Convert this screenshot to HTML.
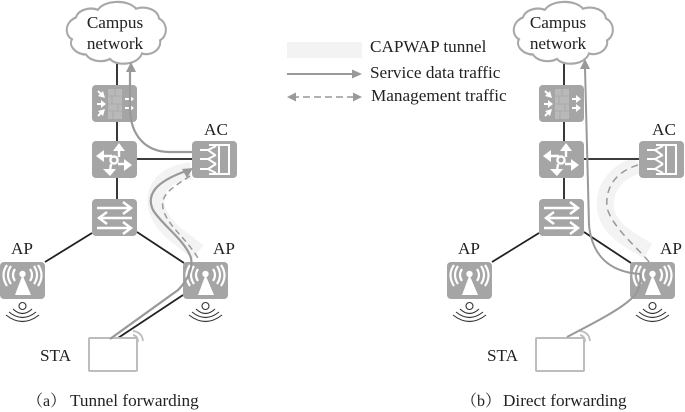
<!DOCTYPE html>
<html><head><meta charset="utf-8"><style>
html,body{margin:0;padding:0;background:#fff;width:685px;height:412px;overflow:hidden}
svg{display:block}
text{font-family:"Liberation Serif","Noto Serif CJK SC",serif;fill:#222;font-size:17.2px}
</style></head><body>
<svg width="685" height="412" viewBox="0 0 685 412" xmlns="http://www.w3.org/2000/svg">
<defs>
<symbol id="cloud" overflow="visible">
<path transform="scale(1,1.090)" d="M20 50C10 50 2 42 6 36C-2 32 -1 20 10 16C12 9 24 6 32 9C38 0 62 -1 70 8C80 5 92 9 93 17C102 21 102 33 94 37C96 45 85 52 76 49C72 60 50 61 44 54C36 58 24 56 20 50Z" fill="#fff" stroke="#a8a8a8" stroke-width="2"/>
</symbol>
<symbol id="fw" overflow="visible">
<rect width="45" height="37" rx="4" fill="#a5a5a5"/>
<rect x="16" y="4" width="14" height="30" fill="#b9b9b9"/>
<path d="M16 11H30M16 19H30M16 26H30M23 4V11M20 11V19M26 19V26M21 26V34" stroke="#a5a5a5" stroke-width=".8" fill="none"/>
<g stroke="#fff" stroke-width="2" fill="none">
<path d="M6 6L10 10M5 19H10M6 31L10 27M33 14H37M33 23H37"/>
</g>
<path d="M13 13L6 11L11 6ZM14 19L9 15V23ZM13 24L6 26L11 31ZM42 14L37 10V18ZM42 23L37 19V27Z" fill="#fff"/>
</symbol>
<symbol id="rt" overflow="visible">
<rect width="45" height="37" rx="4" fill="#a5a5a5"/>
<g stroke="#fff" stroke-width="2.400" fill="none">
<circle cx="22" cy="19" r="3.600"/>
<path d="M27 8V16M10 15H20M35 23H26M19 23L18 30"/>
</g>
<path d="M27 2L33 10H21ZM4 15L12 9V21ZM40 24L32 18V30ZM18 35L11 28H24Z" fill="#fff"/>
</symbol>
<symbol id="sw" overflow="visible">
<rect width="45" height="37" rx="4" fill="#a5a5a5"/>
<g stroke="#fff" stroke-width="2.500" fill="none">
<path d="M5 9H37M31 3L39 9L31 15"/>
<path d="M40 19H9M15 13L7 19L15 25"/>
<path d="M5 29H37M31 23L39 29L31 35"/>
</g>
</symbol>
<symbol id="ac" overflow="visible">
<rect width="45" height="37" rx="4" fill="#a5a5a5"/>
<g stroke="#fff" stroke-width="2" fill="none">
<path d="M17 4H37V33H17M27 4V33"/>
<path d="M8 9H16L24 5M16 9L23 14M8 18H16L24 14M16 18L24 23M8 28H16L24 23M16 28L24 32"/>
</g>
</symbol>
<symbol id="ap" overflow="visible">
<rect width="45" height="37" rx="4" fill="#a5a5a5"/>
<path d="M22.500 13L31 33H15Z" fill="#fff"/>
<circle cx="22.500" cy="12" r="3.200" fill="#fff"/>
<g stroke="#fff" stroke-width="2.200" fill="none">
<path d="M15 7Q11 13 15 19M30 7Q34 13 30 19M11 4Q5 13 11 22M34 4Q40 13 34 22M7 3Q0 13 7 24M38 3Q45 13 38 24"/>
</g>
<circle cx="22.500" cy="44" r="3.500" fill="#fff" stroke="#333" stroke-width="1.100"/>
<g stroke="#333" stroke-width="1.100" fill="none">
<path d="M13 47Q22.500 56 32 47M9 50Q22.500 61 36 50M6 53Q22.500 66 39 53"/>
</g>
</symbol>
<symbol id="sta" overflow="visible">
<rect x="1" y="1" width="48" height="33" rx="1" fill="#fff" stroke="#bdbdbd" stroke-width="2"/>
<path d="M48 -4Q53 -3 53 3M48 -8Q57 -7 58 2" stroke="#bdbdbd" stroke-width="1.800" fill="none" transform="translate(-3,2)"/>
</symbol>
</defs>

<!-- left panel -->
<path d="M191 171C165 173 150 190 158 212C166 231 184 240 198 252" stroke="#f3f3f3" stroke-width="17" fill="none"/>
<g stroke="#222" stroke-width="1.800" fill="none">
<path d="M117 55V199M137 159H192M92 233L45 262M137 232L184 263M183 295L118 338"/>
</g>
<use href="#cloud" x="66" y="0"/>
<use href="#fw" x="92" y="85"/>
<use href="#rt" x="92" y="141"/>
<use href="#sw" x="92" y="199"/>
<use href="#ac" x="192" y="141"/>
<use href="#ap" x="0" y="262"/>
<use href="#ap" x="183" y="262"/>
<use href="#sta" x="88" y="337"/>
<g stroke="#999" stroke-width="2.200" fill="none">
<path d="M130 70V110C131 135 145 152 170 152H192"/>
<path d="M110 339L178 290C188 280 193 268 191 258C185 240 162 225 153 210C146 195 155 182 186 171"/>
</g>
<path d="M131 62L136 72H126ZM193 168L182 169L187 178Z" fill="#999"/>
<path d="M190 176C172 188 158 195 164 212C170 228 188 240 199 260" stroke="#999" stroke-width="1.500" stroke-dasharray="6 4" fill="none"/>
<g text-anchor="middle">
<text x="115" y="28">Campus</text><text x="115" y="49">network</text>
<text x="216" y="135">AC</text><text x="22" y="254">AP</text><text x="224" y="254">AP</text>
</g>
<text x="40" y="361">STA</text>
<text x="27" y="406" style="font-size:16px">（a）</text><text x="70" y="406">Tunnel forwarding</text>

<!-- legend -->
<rect x="287" y="42" width="75" height="16" fill="#f3f3f3"/>
<path d="M287 74H353" stroke="#999" stroke-width="2"/><path d="M362 74L352 69.500V78.500Z" fill="#999"/>
<path d="M292 97H354" stroke="#999" stroke-width="1.500" stroke-dasharray="7 4"/><path d="M287 97L296 92.500V101.500ZM362 97L353 92.500V101.500Z" fill="#999"/>
<text x="370" y="52">CAPWAP tunnel</text>
<text x="370" y="78">Service data traffic</text>
<text x="371" y="101">Management traffic</text>

<!-- right panel -->
<path d="M638 165C615 172 602 190 606 212C612 232 630 240 648 251" stroke="#f3f3f3" stroke-width="17" fill="none"/>
<g stroke="#222" stroke-width="1.800" fill="none">
<path d="M564 55V199M584 159H639M539 233L492 262M584 232L631 263"/>
</g>
<use href="#cloud" x="513" y="0"/>
<use href="#fw" x="539" y="85"/>
<use href="#rt" x="539" y="141"/>
<use href="#sw" x="539" y="199"/>
<use href="#ac" x="639" y="141"/>
<use href="#ap" x="447" y="262"/>
<use href="#ap" x="630" y="262"/>
<use href="#sta" x="535" y="337"/>
<g stroke="#999" stroke-width="2" fill="none">
<path d="M585 68L589 225C592 256 610 272 640 274"/>
<path d="M567 337C590 325 620 310 632 298C641 290 640 280 641 274"/>
</g>
<path d="M585 59L590 69H580Z" fill="#999"/>
<path d="M638 165C615 172 605 188 607 208C613 228 635 245 650 263" stroke="#999" stroke-width="1.500" stroke-dasharray="7 5" fill="none"/>
<g text-anchor="middle">
<text x="558" y="28">Campus</text><text x="558" y="49">network</text>
<text x="664" y="135">AC</text><text x="469" y="254">AP</text><text x="671" y="254">AP</text>
</g>
<text x="487" y="361">STA</text>
<text x="461" y="406" style="font-size:16px">（b）</text><text x="503" y="406">Direct forwarding</text>
</svg>
</body></html>
